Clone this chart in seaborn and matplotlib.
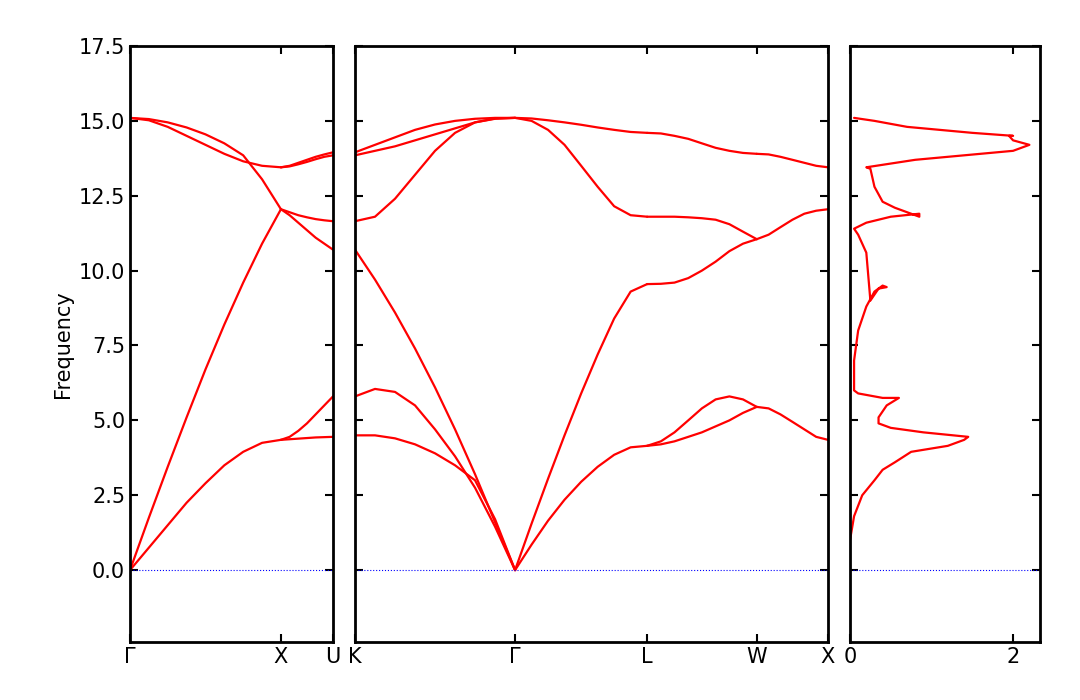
import matplotlib
matplotlib.use("Agg")
import matplotlib.pyplot as plt
import seaborn as sns
import pandas as pd
import numpy as np

sns.set_theme(style="ticks")
plt.rcParams['font.family'] = ['DejaVu Sans']

# Panel 1: Gamma-X (0..1), X-U (1..1.345)
k_gx = [0, 0.125, 0.25, 0.375, 0.5, 0.625, 0.75, 0.875, 1.0]
bands_gx = [
    [0, 0.75, 1.5, 2.25, 2.9, 3.5, 3.95, 4.25, 4.35],
    [0, 1.75, 3.45, 5.1, 6.7, 8.2, 9.6, 10.9, 12.05],
    [15.1, 15.06, 14.95, 14.78, 14.55, 14.25, 13.85, 13.05, 12.05],
    [15.1, 15.02, 14.8, 14.5, 14.2, 13.9, 13.65, 13.5, 13.45],
]
k_xu = [1.0, 1.0575, 1.115, 1.1725, 1.23, 1.2875, 1.345]
bands_xu = [
    [4.35, 4.37, 4.39, 4.41, 4.43, 4.44, 4.45],
    [4.35, 4.45, 4.65, 4.9, 5.2, 5.5, 5.8],
    [12.05, 11.95, 11.85, 11.78, 11.72, 11.68, 11.65],
    [12.05, 11.85, 11.6, 11.35, 11.1, 10.9, 10.7],
    [13.45, 13.48, 13.55, 13.63, 13.72, 13.8, 13.85],
    [13.45, 13.5, 13.6, 13.7, 13.8, 13.88, 13.95],
]
# Panel 2: K-Gamma, Gamma-L, L-W, W-X
k_kg = [0, 0.125, 0.25, 0.375, 0.5, 0.625, 0.75, 0.875, 1.0]
bands_kg = [
    [4.5, 4.5, 4.4, 4.2, 3.9, 3.5, 3.0, 1.7, 0],
    [5.8, 6.05, 5.95, 5.5, 4.7, 3.8, 2.75, 1.45, 0],
    [10.7, 9.7, 8.6, 7.4, 6.1, 4.7, 3.2, 1.6, 0],
    [11.65, 11.8, 12.4, 13.2, 14.0, 14.6, 14.95, 15.08, 15.1],
    [13.95, 14.2, 14.45, 14.7, 14.88, 15.0, 15.07, 15.1, 15.1],
    [13.85, 14.0, 14.15, 14.35, 14.55, 14.75, 14.95, 15.07, 15.1],
]
k_gl = [1.0, 1.103, 1.206, 1.309, 1.413, 1.516, 1.619, 1.722, 1.825]
bands_gl = [
    [0, 0.85, 1.65, 2.35, 2.95, 3.45, 3.85, 4.1, 4.15],
    [0, 1.55, 3.05, 4.5, 5.9, 7.2, 8.4, 9.3, 9.55],
    [15.1, 15.0, 14.7, 14.2, 13.5, 12.8, 12.15, 11.85, 11.8],
    [15.1, 15.08, 15.02, 14.95, 14.87, 14.78, 14.7, 14.63, 14.6],
]
k_lw = [1.825, 1.911, 1.996, 2.082, 2.167, 2.253, 2.339, 2.424, 2.51]
bands_lw = [
    [4.15, 4.2, 4.3, 4.45, 4.6, 4.8, 5.0, 5.25, 5.45],
    [4.15, 4.3, 4.6, 5.0, 5.4, 5.7, 5.8, 5.7, 5.45],
    [9.55, 9.56, 9.6, 9.75, 10.0, 10.3, 10.65, 10.9, 11.05],
    [11.8, 11.8, 11.8, 11.78, 11.75, 11.7, 11.55, 11.3, 11.05],
    [14.6, 14.58, 14.5, 14.4, 14.25, 14.1, 14.0, 13.93, 13.9],
]
k_wx = [2.51, 2.584, 2.658, 2.733, 2.807, 2.881, 2.955]
bands_wx = [
    [5.45, 5.4, 5.2, 4.95, 4.7, 4.45, 4.35],
    [11.05, 11.2, 11.45, 11.7, 11.9, 12.0, 12.05],
    [13.9, 13.88, 13.8, 13.7, 13.6, 13.5, 13.45],
]
# DOS
dos_x = [0.0, 0.05, 0.15, 0.3, 0.4, 0.55, 0.75, 1.2, 1.4, 1.45, 0.9, 0.5, 0.35, 0.35, 0.45, 0.6, 0.4,
         0.1, 0.05, 0.05, 0.1, 0.2, 0.3, 0.4, 0.45, 0.35, 0.25, 0.2, 0.1, 0.05, 0.2, 0.5, 0.85, 0.85,
         0.55, 0.4, 0.3, 0.25, 0.2, 0.8, 1.6, 2.0, 2.2, 2.0, 1.95, 2.0, 1.5, 0.7, 0.3, 0.05]
dos_f = [1.0, 1.8, 2.5, 3.0, 3.35, 3.6, 3.95, 4.15, 4.35, 4.45, 4.6, 4.75, 4.9, 5.1, 5.5, 5.75, 5.75,
         5.9, 6.0, 7.0, 8.0, 8.8, 9.3, 9.5, 9.45, 9.4, 9.0, 10.6, 11.2, 11.4, 11.6, 11.8, 11.9, 11.8,
         12.1, 12.3, 12.8, 13.4, 13.45, 13.7, 13.9, 14.0, 14.2, 14.35, 14.5, 14.5, 14.6, 14.8, 15.0, 15.1]

red = "#ff0000"
fig = plt.figure(figsize=(10.8, 7), dpi=100)
H = 596 / 700
B = 58 / 700
ax1 = fig.add_axes([130/1080, B, 203/1080, H])
ax2 = fig.add_axes([355/1080, B, 473/1080, H])
ax3 = fig.add_axes([850/1080, B, 190/1080, H])

def draw(ax, ks, bands):
    for b in bands:
        df = pd.DataFrame({"k": ks, "f": b})
        sns.lineplot(data=df, x="k", y="f", ax=ax, color=red, lw=1.6, sort=False, estimator=None)

draw(ax1, k_gx, bands_gx); draw(ax1, k_xu, bands_xu)
draw(ax2, k_kg, bands_kg); draw(ax2, k_gl, bands_gl); draw(ax2, k_lw, bands_lw); draw(ax2, k_wx, bands_wx)
sns.lineplot(data=pd.DataFrame({"d": dos_x, "f": dos_f}), x="d", y="f", ax=ax3, color=red, lw=1.6,
             sort=False, estimator=None)

ax1.set_xlim(0, 1.345); ax1.set_xticks([0, 1.0, 1.345]); ax1.set_xticklabels(["Γ", "X", "U"])
ax2.set_xlim(0, 2.955); ax2.set_xticks([0, 1.0, 1.825, 2.51, 2.955]); ax2.set_xticklabels(["K", "Γ", "L", "W", "X"])
ax3.set_xlim(0, 2.33); ax3.set_xticks([0, 2]); ax3.set_xticklabels(["0", "2"])

yt = np.arange(0, 17.6, 2.5)
for ax in (ax1, ax2, ax3):
    ax.set_ylim(-2.4, 17.5)
    ax.axhline(0, color="blue", ls=":", lw=0.8)
    ax.set_xlabel("")
    ax.set_ylabel("")
    ax.set_yticks(yt)
    ax.tick_params(direction="in", top=True, right=True, length=6, width=1.5, labelsize=15,
                   colors="black")
    for s in ax.spines.values():
        s.set_linewidth(2)
        s.set_color("black")
    if ax is not ax1:
        ax.set_yticklabels([])
ax1.set_ylabel("Frequency", fontsize=15, color="black")
ax1.set_yticklabels([f"{v:.1f}" for v in yt])

fig.savefig("out.png", dpi=100)
